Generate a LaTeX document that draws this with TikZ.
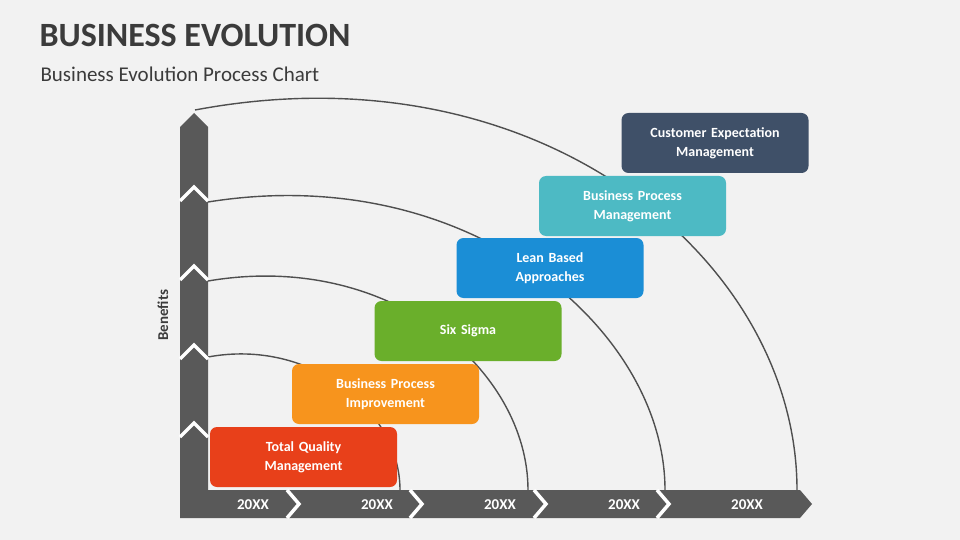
\documentclass[tikz,border=0pt]{standalone}
\usepackage{fontspec}
\setmainfont{Carlito}
\definecolor{bg}{HTML}{F2F2F2}
\definecolor{axis}{HTML}{595959}
\definecolor{ttl}{HTML}{3B3B3B}
\definecolor{cA}{HTML}{E8401A}
\definecolor{cB}{HTML}{F7941D}
\definecolor{cC}{HTML}{6AAF2B}
\definecolor{cD}{HTML}{1B8ED6}
\definecolor{cE}{HTML}{4DBAC4}
\definecolor{cF}{HTML}{3F5068}
\begin{document}
\begin{tikzpicture}[x=1pt,y=-1pt,
  stagebox/.style={rounded corners=7pt,minimum width=187pt,minimum height=60pt,text width=170pt,align=center,text=white,font=\bfseries\fontsize{14}{19}\selectfont,inner sep=0pt},
  arcline/.style={draw=ttl!90,line width=1.4pt},
  gap/.style={draw=white,line width=3.5pt},
  yr/.style={text=white,font=\bfseries\fontsize{15}{18}\selectfont}]
\fill[bg] (0,0) rectangle (960,540);
\useasboundingbox (0,0) rectangle (960,540);
\node[anchor=west,text=ttl,font=\bfseries\fontsize{34}{38}\selectfont] (title) at (36,35) {BUSINESS EVOLUTION};
\node[anchor=west,text=ttl,font=\fontsize{21}{24}\selectfont] (sub) at (37,74) {Business Evolution Process Chart};
\node[rotate=90,text=ttl,font=\bfseries\fontsize{15}{18}\selectfont] (ben) at (163,315) {Benefits};
% arcs
\draw[arcline] (208,357) .. controls (310,338) and (400,410) .. (400,490);
\draw[arcline] (208,281) .. controls (390,250) and (528,370) .. (528,490);
\draw[arcline] (208,202) .. controls (470,160) and (665,330) .. (665,490);
\draw[arcline] (195,110) .. controls (540,45) and (797,260) .. (797,490);
% axes
\fill[axis] (180,518) -- (180,127) -- (194,113) -- (208,127) -- (208,490) -- (800,490) -- (812,504) -- (800,518) -- cycle;
\foreach \y in {187,266,345,423} \draw[gap] (180,\y+14) -- (194,\y) -- (208,\y+14);
\foreach \x in {287,410,534,657} \draw[gap] (\x,490) -- (\x+12,504) -- (\x,518);
\foreach \x/\n in {253/y1,377/y2,500/y3,624/y4,747/y5} \node[yr] (\n) at (\x,505) {20XX};
% boxes
\node[stagebox,fill=cA] (b1) at (303.5,457) {Total Quality\\Management};
\node[stagebox,fill=cB] (b2) at (385.5,394) {Business Process\\Improvement};
\node[stagebox,fill=cC] (b3) at (468,331) {Six Sigma};
\node[stagebox,fill=cD] (b4) at (550,268) {Lean Based\\Approaches};
\node[stagebox,fill=cE] (b5) at (632.5,206) {Business Process\\Management};
\node[stagebox,fill=cF] (b6) at (715,143) {Customer Expectation\\Management};
\end{tikzpicture}
\end{document}
